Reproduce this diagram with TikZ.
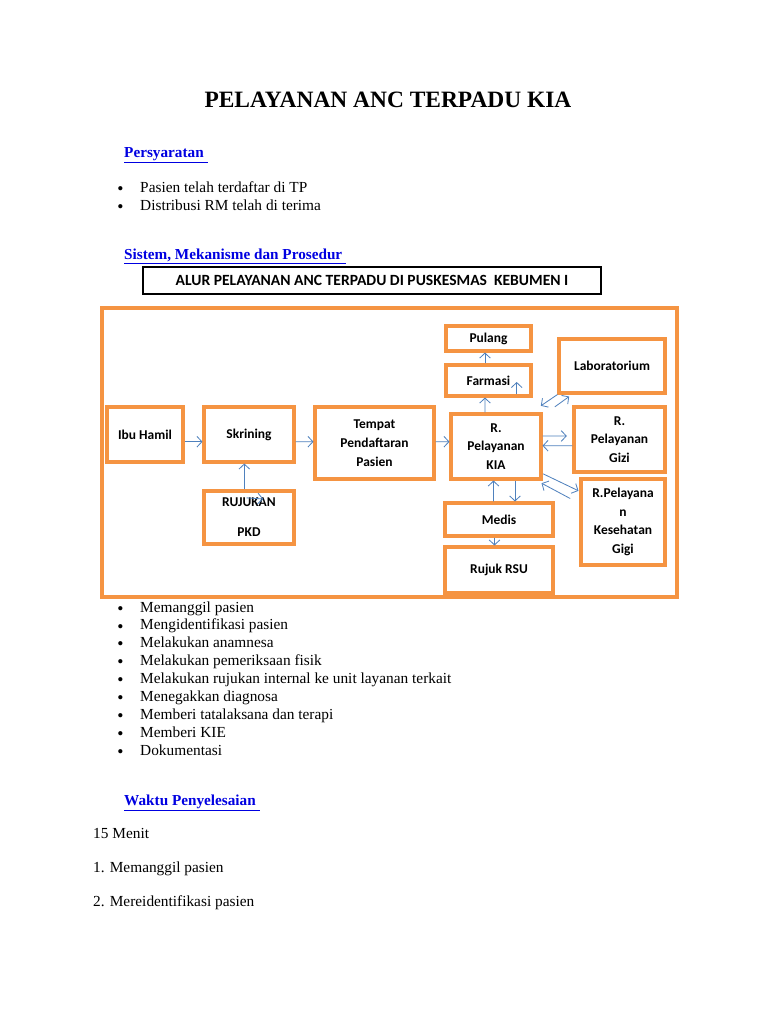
\documentclass[tikz,border=0pt]{standalone}
\usepackage{fontspec}
\setmainfont{Liberation Serif}
\newfontfamily\boxfont{Carlito}
\usetikzlibrary{arrows.meta}
\definecolor{kiaorange}{RGB}{245,148,66}
\definecolor{kiablue}{RGB}{79,129,189}
\definecolor{linkblue}{RGB}{0,0,225}
\newcommand{\pnt}{\llap{\raisebox{-1.8pt}{\fontsize{15}{15}\selectfont\textbullet}\hspace{5mm}}}
\tikzstyle{unitbox} = [rectangle,
draw=kiaorange,
line width=2.6pt,
text centered,
align=center,
font=\boxfont\bfseries\fontsize{11.5}{16}\selectfont]
\tikzstyle{outerframe} = [rectangle,
draw=kiaorange,
line width=2.6pt]
\tikzstyle{headerbox} = [rectangle,
draw=black,
line width=1.1pt,
font=\boxfont\bfseries\fontsize{13.3}{15}\selectfont]
\tikzstyle{bodytext} = [anchor=base west,
inner sep=0pt,
font=\fontsize{13.1}{15}\selectfont]
\tikzstyle{headline} = [anchor=base west,
inner sep=0pt,
text=linkblue,
font=\bfseries\fontsize{13}{15}\selectfont]
\tikzstyle{arrow} = [draw=kiablue, line width=0.7pt, ->, >={Straight Barb[length=1.5mm,width=3.2mm]}]

\begin{document}
\begin{tikzpicture}[x=0.3mm, y=-0.3mm]
\fill [white] (0,0) rectangle (768,1024);
\useasboundingbox (0,0) rectangle (768,1024);

\node (title) [anchor=base, inner sep=0pt, font=\bfseries\fontsize{20}{24}\selectfont] at (388,107.3) {PELAYANAN ANC TERPADU KIA};

\node (syarat) [headline] at (124,157.7) {\underline{Persyaratan\ }};
\node (s1) [bodytext] at (140,192.3) {\pnt Pasien telah terdaftar di TP};
\node (s2) [bodytext] at (140,210.8) {\pnt Distribusi RM telah di terima};

\node (sistem) [headline] at (124,259.3) {\underline{Sistem, Mekanisme dan Prosedur\ }};
\node (hdr) [headerbox, minimum width=137.4mm, minimum height=8.1mm] at (372,280.5) {ALUR PELAYANAN ANC TERPADU DI PUSKESMAS\ \ KEBUMEN I};

\node (frame) [outerframe, minimum width=172.5mm, minimum height=86.7mm] at (389.5,452.5) {};

\node (ibu) [unitbox, minimum width=22.8mm, minimum height=16.5mm] at (145,434.5) {Ibu Hamil};
\node (skr) [unitbox, minimum width=27mm, minimum height=16.5mm] at (249,434.5) {Skrining};
\node (tmp) [unitbox, minimum width=35.7mm, minimum height=21.6mm] at (374.5,443) {Tempat\\Pendaftaran\\Pasien};
\node (ruj) [unitbox, minimum width=27mm, minimum height=15.9mm] at (249,517.5) {RUJUKAN\\[9.5pt]PKD};

\node (pul) [unitbox, minimum width=25.5mm, minimum height=7.5mm] at (488.5,338.5) {Pulang};
\node (far) [unitbox, minimum width=25.5mm, minimum height=9.3mm] at (488.5,380.5) {Farmasi};
\node (lab) [unitbox, minimum width=31.8mm, minimum height=16.2mm] at (612,366) {Laboratorium};
\node (kia) [unitbox, minimum width=27mm, minimum height=19.5mm] at (496,446.5) {R.\\Pelayanan\\KIA};
\node (gizi) [unitbox, minimum width=27.3mm, minimum height=19.5mm] at (619.5,439.5) {R.\\Pelayanan\\Gizi};
\node (gigi) [unitbox, minimum width=25.2mm, minimum height=25.8mm] at (623,522) {R.Pelayana\\n\\Kesehatan\\Gigi};
\node (med) [unitbox, minimum width=32.4mm, minimum height=9.9mm] at (499,519.5) {Medis};
\node (rsu) [unitbox, minimum width=32.4mm, minimum height=13.8mm] at (499,570) {Rujuk RSU};

\draw [arrow] ([yshift=-2.16mm]ibu.east) -- ([yshift=-2.16mm]skr.west);
\draw [arrow] ([yshift=-2.16mm]skr.east) -- ([yshift=0.39mm]tmp.west);
\draw [arrow] ([yshift=0.39mm]tmp.east) -- ([yshift=1.44mm]kia.west);
\draw [arrow] ([xshift=-1.41mm]ruj.north) -- ([xshift=-1.41mm]skr.south);
\draw [arrow] ([xshift=-0.7mm,yshift=5.9mm]ruj.center) -- ([xshift=4.3mm,yshift=5.55mm]ruj.center);

\draw [arrow] ([xshift=-3.3mm]kia.north) -- ([xshift=-1.05mm]far.south);
\draw [arrow] ([xshift=-1.05mm]far.north) -- ([xshift=-1.05mm]pul.south);
\draw [arrow] ([xshift=8.46mm,yshift=-4.05mm]far.center) -- ([xshift=8.46mm,yshift=-0.45mm]far.center);
\draw [arrow] (lab.south west) -- ([xshift=-0.5mm,yshift=2mm]kia.north east);
\draw [arrow] ([xshift=3.7mm,yshift=1.7mm]kia.north east) -- ([xshift=3.5mm,yshift=-0.6mm]lab.south west);
\draw [arrow] ([yshift=3.15mm]kia.east) -- ([xshift=-1.7mm,yshift=1.05mm]gizi.west);
\draw [arrow] ([yshift=-1.86mm]gizi.west) -- ([yshift=0.24mm]kia.east);
\draw [arrow] ([xshift=0.2mm,yshift=2mm]kia.south east) -- ([xshift=-0.3mm,yshift=-4mm]gigi.north west);
\draw [arrow] ([xshift=-2.8mm,yshift=-6.3mm]gigi.north west) -- ([xshift=-0.3mm,yshift=-0.8mm]kia.south east);
\draw [arrow] ([xshift=5.7mm]kia.south) -- ([xshift=4.8mm]med.north);
\draw [arrow] ([xshift=-1.65mm]med.north) -- ([xshift=-0.75mm]kia.south);
\draw [arrow] ([xshift=-1.35mm]med.south) -- ([xshift=-1.35mm]rsu.north);

\node (p1) [bodytext] at (140,612) {\pnt Memanggil pasien};
\node (p2) [bodytext] at (140,629.9) {\pnt Mengidentifikasi pasien};
\node (p3) [bodytext] at (140,647.8) {\pnt Melakukan anamnesa};
\node (p4) [bodytext] at (140,665.7) {\pnt Melakukan pemeriksaan fisik};
\node (p5) [bodytext] at (140,683.6) {\pnt Melakukan rujukan internal ke unit layanan terkait};
\node (p6) [bodytext] at (140,701.5) {\pnt Menegakkan diagnosa};
\node (p7) [bodytext] at (140,719.4) {\pnt Memberi tatalaksana dan terapi};
\node (p8) [bodytext] at (140,737.3) {\pnt Memberi KIE};
\node (p9) [bodytext] at (140,755.2) {\pnt Dokumentasi};

\node (waktu) [headline] at (124,805.7) {\underline{Waktu Penyelesaian\ }};
\node (menit) [bodytext] at (93,838.3) {15 Menit};
\node (w1) [bodytext] at (93,872.3) {1. Memanggil pasien};
\node (w2) [bodytext] at (93,906) {2. Mereidentifikasi pasien};

\end{tikzpicture}
\end{document}
